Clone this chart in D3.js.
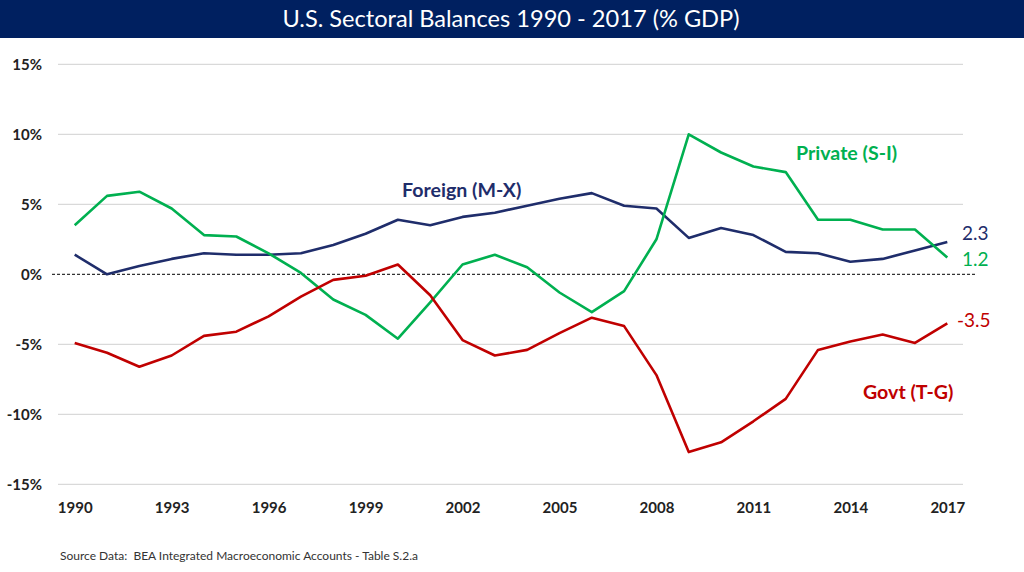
<!DOCTYPE html>
<html><head><meta charset="utf-8">
<script src="https://cdn.jsdelivr.net/npm/d3@7"></script>
<style>
html,body{margin:0;padding:0;background:#fff;}
svg{display:block;}
</style></head>
<body>
<svg id="c" width="1024" height="572"></svg>
<script>
const years = d3.range(1990, 2018);
const yTicks = [15, 10, 5, 0, -5, -10, -15];
const xTickYears = [1990, 1993, 1996, 1999, 2002, 2005, 2008, 2011, 2014, 2017];
const foreign = [1.4, 0.0, 0.6, 1.1, 1.5, 1.4, 1.4, 1.5, 2.1, 2.9, 3.9, 3.5, 4.1, 4.4, 4.9, 5.4, 5.8, 4.9, 4.7, 2.6, 3.3, 2.8, 1.6, 1.5, 0.9, 1.1, 1.7, 2.3];
const privateBal = [3.5, 5.6, 5.9, 4.7, 2.8, 2.7, 1.5, 0.1, -1.8, -2.9, -4.6, -2.0, 0.7, 1.4, 0.5, -1.3, -2.7, -1.2, 2.5, 10.0, 8.7, 7.7, 7.3, 3.9, 3.9, 3.2, 3.2, 1.2];
const govt = [-4.9, -5.6, -6.6, -5.8, -4.4, -4.1, -3.0, -1.6, -0.4, -0.1, 0.7, -1.5, -4.7, -5.8, -5.4, -4.2, -3.1, -3.7, -7.2, -12.7, -12.0, -10.5, -8.9, -5.4, -4.8, -4.3, -4.9, -3.5];
const seriesNames = ["Foreign (M-X)", "Private (S-I)", "Govt (T-G)"];
const endLabels = ["2.3", "1.2", "-3.5"];
const titleText = "U.S. Sectoral Balances 1990 - 2017 (% GDP)";
const sourceText = "Source Data:  BEA Integrated Macroeconomic Accounts - Table S.2.a";

const svg = d3.select("#c");
const W = 1024;
const font = "Lato, 'Open Sans', sans-serif";

// title bar
svg.append("rect").attr("x",0).attr("y",0).attr("width",W).attr("height",38).attr("fill","#002060");
svg.append("text").attr("x",511).attr("y",27).attr("text-anchor","middle")
  .attr("fill","#fff").attr("font-family",font).attr("font-size",23.6).text(titleText);

const x = d3.scaleLinear().domain([1990, 2017]).range([74.7, 947.3]);
const y = d3.scaleLinear().domain([-15, 15]).range([484.3, 64.3]);

// grid
const g = svg.append("g");
g.selectAll("line.grid").data(yTicks.filter(d => d !== 0)).enter().append("line")
  .attr("x1",58).attr("x2",963).attr("y1",d=>y(d)).attr("y2",d=>y(d))
  .attr("stroke","#d9d9d9").attr("stroke-width",1.3);
g.append("line").attr("x1",52).attr("x2",975).attr("y1",y(0)).attr("y2",y(0))
  .attr("stroke","#000").attr("stroke-width",1).attr("stroke-dasharray","3,2");

// y axis labels
const yAxis = d3.axisLeft(y).tickValues(yTicks).tickSize(0).tickFormat(d => d + "%");
const ya = svg.append("g").attr("transform","translate(42,0)").call(yAxis);
ya.select(".domain").remove();
ya.selectAll("text").attr("font-family",font).attr("font-weight","bold").attr("font-size",15)
  .attr("fill","#222").attr("dx",0).attr("x",0).attr("dy","0.35em");

// x axis labels
const xAxis = d3.axisBottom(x).tickValues(xTickYears).tickSize(0).tickFormat(d3.format("d"));
const xa = svg.append("g").attr("transform","translate(0,499)").call(xAxis);
xa.select(".domain").remove();
xa.selectAll("text").attr("font-family",font).attr("font-weight","bold").attr("font-size",15)
  .attr("fill","#222");

// lines
const data = [
  {vals: foreign, color: "#1f2d6b"},
  {vals: privateBal, color: "#00b050"},
  {vals: govt, color: "#c00000"}
];
const line = d3.line().x((d,i)=>x(years[i])).y(d=>y(d));
svg.selectAll("path.s").data(data).enter().append("path")
  .attr("d", d => line(d.vals)).attr("fill","none").attr("stroke", d=>d.color)
  .attr("stroke-width",2.6).attr("stroke-linejoin","round");

// series labels
const lbl = [
  {t: seriesNames[0], x: 402, y: 197, c: "#1f2d6b"},
  {t: seriesNames[1], x: 796, y: 160, c: "#00b050"},
  {t: seriesNames[2], x: 863, y: 399, c: "#c00000"}
];
svg.selectAll("text.lbl").data(lbl).enter().append("text")
  .attr("x",d=>d.x).attr("y",d=>d.y).attr("fill",d=>d.c)
  .attr("font-family",font).attr("font-weight","bold").attr("font-size",19.6).text(d=>d.t);

// end labels
const ends = [
  {t: endLabels[0], x: 962, y: 240, c: "#1f2d6b"},
  {t: endLabels[1], x: 962, y: 266, c: "#00b050"},
  {t: endLabels[2], x: 957, y: 327, c: "#c00000"}
];
svg.selectAll("text.end").data(ends).enter().append("text")
  .attr("x",d=>d.x).attr("y",d=>d.y).attr("fill",d=>d.c)
  .attr("font-family",font).attr("font-size",19).text(d=>d.t);

// source
svg.append("text").attr("x",60).attr("y",560).attr("fill","#333")
  .attr("font-family",font).attr("font-size",12).style("white-space","pre").text(sourceText);
</script>
</body></html>
